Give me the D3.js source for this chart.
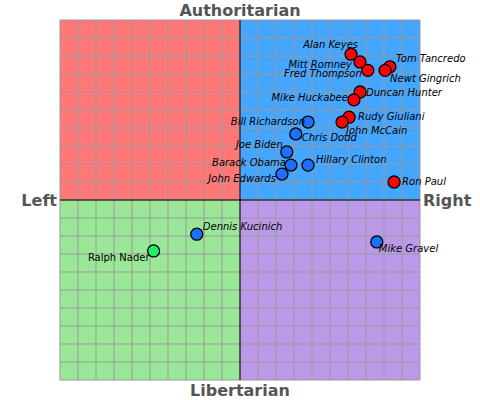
<!DOCTYPE html><html><head><meta charset="utf-8"><script src="https://cdn.jsdelivr.net/npm/d3@7"></script>
<style>body{margin:0;background:#fff}</style></head><body><svg id="c" width="480" height="400"></svg>
<script>
const names=["Alan Keyes","Mitt Romney","Fred Thompson","Tom Tancredo","Newt Gingrich","Duncan Hunter","Mike Huckabee","Rudy Giuliani","John McCain","Bill Richardson","Chris Dodd","Joe Biden","Barack Obama","Hillary Clinton","John Edwards","Ron Paul","Dennis Kucinich","Ralph Nader","Mike Gravel"];
const economic=[6.17,6.67,7.1,8.33,8.06,6.67,6.33,6.06,5.67,3.78,3.1,2.6,2.83,3.78,2.33,8.56,-2.4,-4.8,7.6];
const social=[8.1,7.67,7.2,7.4,7.2,6.0,5.56,4.6,4.33,4.33,3.67,2.67,1.94,1.94,1.44,1.0,-1.9,-2.83,-2.33];
const party=["R","R","R","R","R","R","R","R","R","D","D","D","D","D","D","R","D","G","D"];
const axisLabels={top:"Authoritarian",bottom:"Libertarian",left:"Left",right:"Right"};
// label placement (styling)
const lab={"Alan Keyes":[7,-6,"end"],"Mitt Romney":[-8,6,"end"],"Fred Thompson":[-6,7,"end"],"Tom Tancredo":[6,-5,"start"],"Newt Gingrich":[5,12,"start"],"Duncan Hunter":[6,4,"start"],"Mike Huckabee":[-6,1,"end"],"Rudy Giuliani":[9,3,"start"],"John McCain":[4,12,"start"],"Bill Richardson":[-3,3,"end"],"Chris Dodd":[6,7,"start"],"Joe Biden":[-4,-4,"end"],"Barack Obama":[-5,1,"end"],"Hillary Clinton":[8,-2,"start"],"John Edwards":[-6,8,"end"],"Ron Paul":[8,3,"start"],"Dennis Kucinich":[6,-4,"start"],"Ralph Nader":[-4,10,"end"],"Mike Gravel":[2,10,"start"]};
const col={R:"#ff0000",D:"#1f6fff",G:"#22ee66"};
const svg=d3.select("#c");
const x=d3.scaleLinear().domain([-10,10]).range([60,420]);
const y=d3.scaleLinear().domain([-10,10]).range([380,20]);
const quads=[[-10,0,10,0,"#ff7878"],[0,10,10,0,"#44a6ff"],[-10,0,0,-10,"#9ae897"],[0,10,0,-10,"#bb99e8"]];
quads.forEach(q=>svg.append("rect").attr("x",x(q[0])).attr("width",x(q[1])-x(q[0])).attr("y",y(q[2])).attr("height",y(q[3])-y(q[2])).attr("fill",q[4]));
const t=d3.range(-10,11);
svg.append("g").selectAll("line").data(t).join("line").attr("x1",d=>x(d)).attr("x2",d=>x(d)).attr("y1",20).attr("y2",380).attr("stroke","#999").attr("stroke-width",1);
svg.append("g").selectAll("line").data(t).join("line").attr("y1",d=>y(d)).attr("y2",d=>y(d)).attr("x1",60).attr("x2",420).attr("stroke","#999").attr("stroke-width",1);
svg.append("line").attr("x1",x(0)).attr("x2",x(0)).attr("y1",20).attr("y2",380).attr("stroke","#000");
svg.append("line").attr("y1",y(0)).attr("y2",y(0)).attr("x1",60).attr("x2",420).attr("stroke","#000");
const tf="DejaVu Sans";
const ax=(tx,ty,s,a)=>svg.append("text").attr("x",tx).attr("y",ty).attr("text-anchor",a).attr("font-family",tf).attr("font-weight","bold").attr("font-size",16).attr("fill","#555").text(s);
ax(x(0),16,axisLabels.top,"middle");ax(x(0),396,axisLabels.bottom,"middle");ax(57,206,axisLabels.left,"end");ax(423,206,axisLabels.right,"start");
const data=names.map((n,i)=>({n,e:economic[i],s:social[i],p:party[i]}));
svg.append("g").selectAll("circle").data(data).join("circle").attr("cx",d=>x(d.e)).attr("cy",d=>y(d.s)).attr("r",6).attr("fill",d=>col[d.p]).attr("stroke","#000").attr("stroke-width",1.3);
svg.append("g").selectAll("text").data(data).join("text").attr("x",d=>x(d.e)+lab[d.n][0]).attr("y",d=>y(d.s)+lab[d.n][1]).attr("text-anchor",d=>lab[d.n][2]).attr("font-family",tf).attr("font-size",10).attr("font-style",d=>d.p==="G"?"normal":"italic").attr("fill","#000").text(d=>d.n);
</script></body></html>
